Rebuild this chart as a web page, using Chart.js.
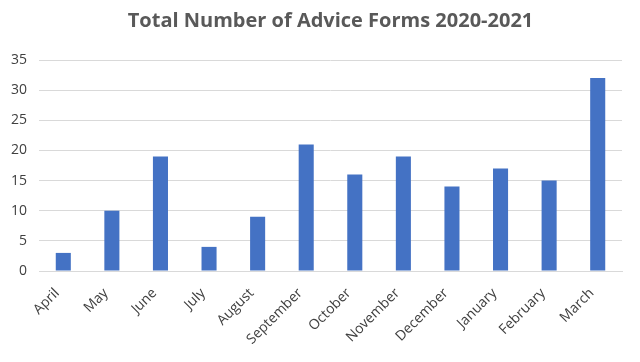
<!DOCTYPE html>
<html><head><meta charset="utf-8">
<script src="https://cdn.jsdelivr.net/npm/chart.js@4/dist/chart.umd.min.js"></script>
<style>html,body{margin:0;padding:0;background:#fff}#wrap{width:640px;height:362px}</style>
</head><body><div id="wrap"><canvas id="c"></canvas></div>
<script>
const categories = ["April","May","June","July","August","September","October","November","December","January","February","March"];
const adviceForms = [3,10,19,4,9,21,16,19,14,17,15,32];
const yTicks = [0,5,10,15,20,25,30,35];
const titleText = "Total Number of Advice Forms 2020-2021";

new Chart(document.getElementById('c'), {
  type: 'bar',
  data: { labels: categories, datasets: [{ data: adviceForms, backgroundColor: '#4472C4', barPercentage: 0.31, categoryPercentage: 1 }] },
  options: {
    responsive: true, maintainAspectRatio: false, animation: false,
    layout: { padding: { left: 0, right: 18, top: 0, bottom: 0 } },
    plugins: {
      legend: { display: false }, tooltip: { enabled: false },
      title: { display: true, fullSize: false, text: titleText, color: '#595959', font: { family: 'Open Sans', size: 20, weight: 'bold' }, padding: { top: 9, bottom: 27 } }
    },
    scales: {
      x: {
        grid: { display: false, drawTicks: false },
        border: { color: '#d9d9d9' },
        ticks: { color: '#404040', font: { family: 'Open Sans', size: 14 }, minRotation: 45, maxRotation: 45, padding: 14, labelOffset: -6 },
        afterFit: s => { s.height = 91; }
      },
      y: {
        min: 0, max: 35,
        afterBuildTicks: s => { s.ticks = yTicks.map(v => ({ value: v })); },
        grid: { color: '#d9d9d9', drawTicks: false },
        border: { display: false },
        ticks: { color: '#404040', font: { family: 'Open Sans', size: 14 }, padding: 12 },
        afterFit: s => { s.width = 39; }
      }
    }
  }
});
</script></body></html>
